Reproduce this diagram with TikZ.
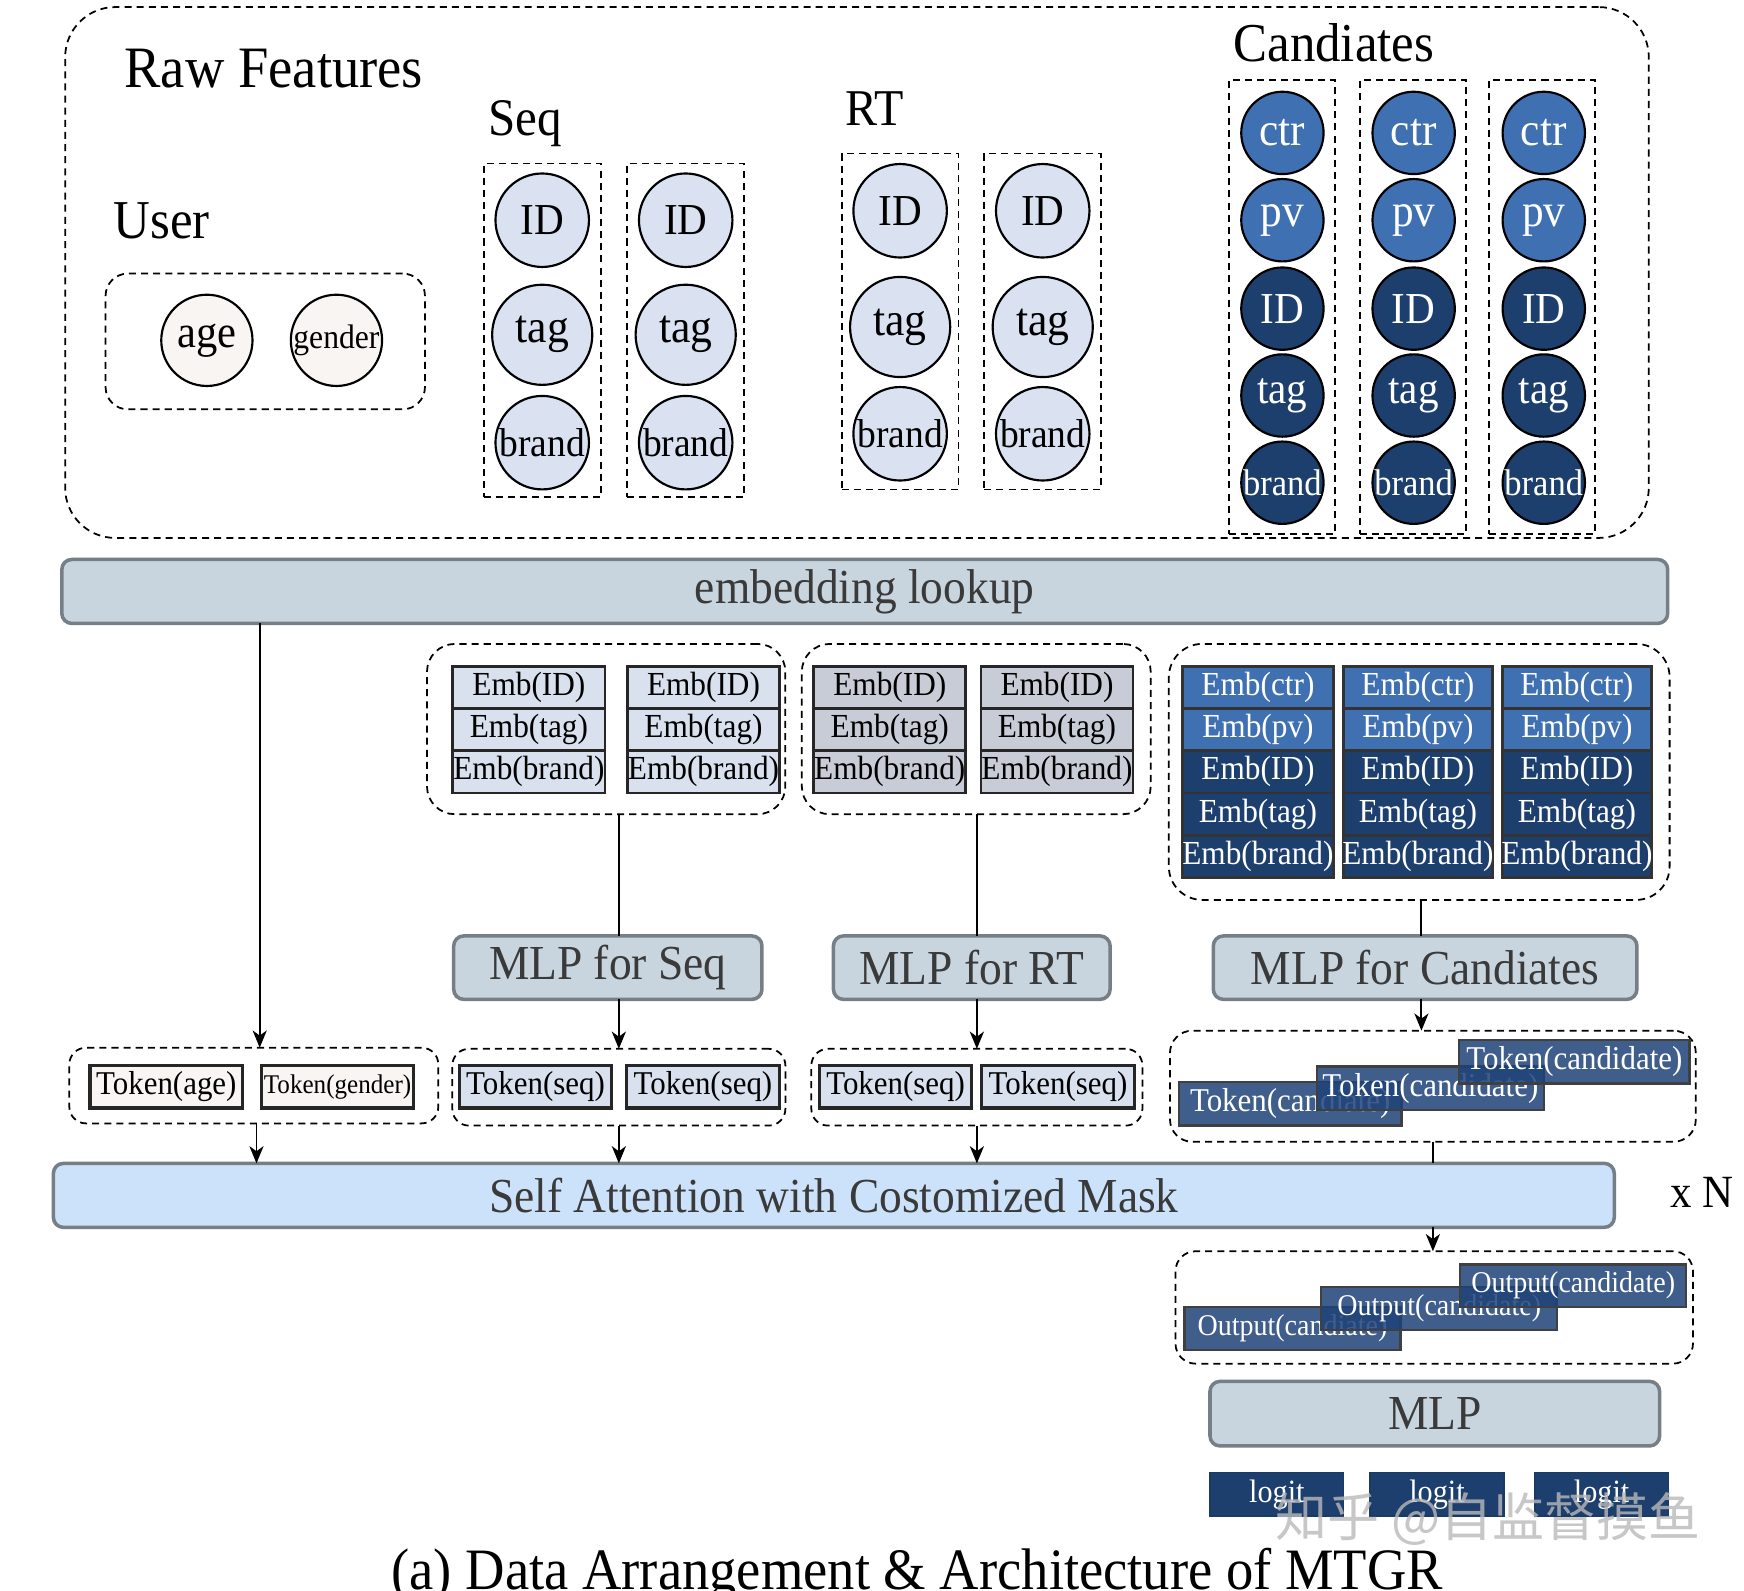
\documentclass[tikz,border=0pt]{standalone}
\usepackage{fontspec}
\setmainfont{Liberation Serif}[FakeStretch=0.93]
\newfontfamily\cjkfont{Noto Sans CJK SC}
\usetikzlibrary{arrows.meta}
\definecolor{circlight}{HTML}{DAE1F0}
\definecolor{usrfill}{HTML}{F8F5F3}
\definecolor{candA}{HTML}{3F70B2}
\definecolor{candB}{HTML}{1D3F6E}
\definecolor{seqemb}{HTML}{D9E0EE}
\definecolor{rtemb}{HTML}{C8CCD6}
\definecolor{barfill}{HTML}{C8D5DF}
\definecolor{barline}{HTML}{767E86}
\definecolor{attnfill}{HTML}{CCE2FA}
\definecolor{tokcand}{HTML}{1F4279}
\definecolor{textgray}{HTML}{3A3A3A}
\newcommand{\fsz}[1]{\fontsize{#1}{#1}\selectfont}
\newcommand{\zw}[1]{\makebox[0pt][c]{#1}}
\begin{document}
\begin{tikzpicture}[x=0.01cm,y=-0.01cm,
  every node/.style={inner sep=0pt, outer sep=0pt},
  dbox/.style={draw, line width=0.45pt, dash pattern=on 1.8pt off 1.3pt},
  fc/.style={circle, draw, line width=0.55pt, minimum size=#1},
  lightc/.style={fc=#1, fill=circlight},
  userc/.style={fc=0.82cm, fill=usrfill},
  candAc/.style={fc=0.74cm, fill=candA, text=white},
  candBc/.style={fc=0.74cm, fill=candB, text=white},
  embS/.style={draw=black!85, line width=0.7pt, fill=seqemb, minimum height=0.38cm, font=\fsz{8.6pt}},
  embR/.style={embS, fill=rtemb},
  embCA/.style={draw=black!80, line width=0.7pt, fill=candA, text=white, minimum height=0.38cm, font=\fsz{8.6pt}},
  embCB/.style={embCA, fill=candB},
  barS/.style={draw=barline, line width=0.9pt, fill=barfill, rounded corners=0.09cm, text=textgray, font=\fsz{12.5pt}},
  tokS/.style={draw=black!85, line width=0.8pt, minimum height=0.384cm, font=\fsz{8.5pt}},
  tokC/.style={draw=black!75, line width=0.6pt, fill=tokcand, fill opacity=0.85, text opacity=1, draw opacity=1, text=white, minimum height=0.39cm},
  logitS/.style={draw=candB!90!black, fill=candB, text=white, minimum width=1.2cm, minimum height=0.39cm, font=\fsz{8.3pt}},
  arr/.style={-{Stealth[length=4.4pt,width=3.6pt,inset=1.3pt]}, line width=0.5pt},
  conn/.style={line width=0.5pt}]

\fill[white] (0,0) rectangle (1568,1430);
\useasboundingbox (0,0) rectangle (1568,1430);

% ---------------- Raw features ----------------
\node[dbox, rounded corners=0.45cm, minimum width=14.23cm, minimum height=4.77cm] (raw) at (770.5,245) {};
\node[anchor=base west, font=\fsz{15pt}] (rawlbl) at (112,79) {Raw Features};
\node[anchor=base west, font=\fsz{14pt}] (userlbl) at (102,214) {User};
\node[anchor=base west, font=\fsz{13.5pt}] (seqlbl) at (439,122) {Seq};
\node[anchor=base west, font=\fsz{13.2pt}] (rtlbl) at (760,113) {RT};
\node[anchor=base west, font=\fsz{14pt}] (candlbl) at (1109,55) {Candiates};

% user
\node[dbox, rounded corners=0.2cm, minimum width=2.87cm, minimum height=1.22cm] (userbox) at (238.5,307) {};
\node[userc, font=\fsz{11.7pt}] (age) at (186,306) {age};
\node[userc, font=\fsz{8.7pt}] (gender) at (302.5,306) {\zw{gender}};

% seq
\foreach \cx/\nm in {487.5/sqa, 616.5/sqb}{
  \node[dbox, minimum width=1.05cm, minimum height=3.0cm] (\nm-box) at (\cx,297) {};
  \node[lightc=0.84cm, font=\fsz{11.3pt}] (\nm-id) at (\cx,198) {ID};
  \node[lightc=0.90cm, font=\fsz{12pt}] (\nm-tag) at (\cx,301) {tag};
  \node[lightc=0.84cm, font=\fsz{10.3pt}] (\nm-br) at (\cx,398) {\zw{brand}};
}
% rt
\foreach \cx/\nm in {809.3/rta, 937.5/rtb}{
  \node[dbox, minimum width=1.05cm, minimum height=3.02cm] (\nm-box) at (\cx,289) {};
  \node[lightc=0.84cm, font=\fsz{11.3pt}] (\nm-id) at (\cx,189.5) {ID};
  \node[lightc=0.90cm, font=\fsz{12pt}] (\nm-tag) at (\cx,294) {tag};
  \node[lightc=0.84cm, font=\fsz{10.3pt}] (\nm-br) at (\cx,390) {\zw{brand}};
}
% candidates
\foreach \cx/\bx/\nm in {1153/1152.5/ca, 1271/1270.5/cb, 1388/1386.5/cc}{
  \node[dbox, minimum width=0.95cm, minimum height=4.08cm] (\nm-box) at (\bx,276) {};
  \node[candAc, font=\fsz{11.9pt}] (\nm-ctr) at (\cx,119.5) {ctr};
  \node[candAc, font=\fsz{11.9pt}] (\nm-pv) at (\cx,198) {pv};
  \node[candBc, font=\fsz{11.3pt}] (\nm-id) at (\cx,277.5) {ID};
  \node[candBc, font=\fsz{11.3pt}] (\nm-tag) at (\cx,355.6) {tag};
  \node[candBc, font=\fsz{9.5pt}] (\nm-br) at (\cx,434) {\zw{brand}};
}

% ---------------- embedding lookup ----------------
\node[barS, minimum width=14.43cm, minimum height=0.575cm] (embbar) at (777.5,531.75) {embedding lookup};

% seq embeddings
\node[dbox, rounded corners=0.25cm, minimum width=3.22cm, minimum height=1.53cm] (sembox) at (545,655.5) {};
\foreach \cx/\nm in {475.5/sea, 632.5/seb}{
  \foreach \ry/\t/\k in {618/ID/1, 656/tag/2, 694/brand/3}{
    \node[embS, minimum width=1.37cm] (\nm\k) at (\cx,\ry) {\zw{Emb(\t)}};
  }
}
% rt embeddings
\node[dbox, rounded corners=0.25cm, minimum width=3.135cm, minimum height=1.53cm] (rembox) at (877.75,655.5) {};
\foreach \cx/\nm in {800/rea, 950.3/reb}{
  \foreach \ry/\t/\k in {618/ID/1, 656/tag/2, 694/brand/3}{
    \node[embR, minimum width=1.365cm] (\nm\k) at (\cx,\ry) {\zw{Emb(\t)}};
  }
}
% candidate embeddings
\node[dbox, rounded corners=0.3cm, minimum width=4.5cm, minimum height=2.3cm] (cembox) at (1276,694) {};
\foreach \cx/\w/\nm in {1131/1.36cm/cea, 1274.8/1.335cm/ceb, 1417.8/1.335cm/cec}{
  \node[embCA, minimum width=\w] (\nm1) at (\cx,618) {\zw{Emb(ctr)}};
  \node[embCA, minimum width=\w] (\nm2) at (\cx,656) {\zw{Emb(pv)}};
  \node[embCB, minimum width=\w] (\nm3) at (\cx,694) {\zw{Emb(ID)}};
  \node[embCB, minimum width=\w] (\nm4) at (\cx,732) {\zw{Emb(tag)}};
  \node[embCB, minimum width=\w] (\nm5) at (\cx,770) {\zw{Emb(brand)}};
}

% ---------------- MLPs ----------------
\node[barS, minimum width=2.77cm, minimum height=0.57cm] (smlp) at (546.5,870) {MLP for Seq};
\node[barS, minimum width=2.486cm, minimum height=0.57cm] (rmlp) at (873.7,870) {MLP for RT};
\node[barS, minimum width=3.806cm, minimum height=0.57cm] (cmlp) at (1281.3,870) {MLP for Candiates};

% ---------------- tokens ----------------
\node[dbox, rounded corners=0.15cm, minimum width=3.316cm, minimum height=0.68cm] (utoks) at (228.2,976) {};
\node[tokS, fill=usrfill, minimum width=1.37cm] (tage) at (149.5,977) {Token(age)};
\node[tokS, fill=usrfill, minimum width=1.37cm, font=\fsz{6.9pt}] (tgen) at (303.5,977) {Token(gender)};

\node[dbox, rounded corners=0.15cm, minimum width=2.993cm, minimum height=0.69cm] (stoks) at (556.4,977.5) {};
\node[tokS, fill=seqemb, minimum width=1.37cm] (ts1) at (481.5,977) {Token(seq)};
\node[tokS, fill=seqemb, minimum width=1.38cm] (ts2) at (632,977) {Token(seq)};

\node[dbox, rounded corners=0.15cm, minimum width=2.975cm, minimum height=0.69cm] (rtoks) at (878.3,977.5) {};
\node[tokS, fill=seqemb, minimum width=1.364cm] (tr1) at (805.2,977) {Token(seq)};
\node[tokS, fill=seqemb, minimum width=1.37cm] (tr2) at (951.2,977) {Token(seq)};

\node[dbox, rounded corners=0.2cm, minimum width=4.725cm, minimum height=0.998cm] (ctoks) at (1288.3,976.6) {};
\node[tokC, minimum width=2.0cm, font=\fsz{8.5pt}] (tc1) at (1160,992.5) {\zw{Token(candiate)}};
\node[tokC, minimum width=2.04cm, font=\fsz{8.5pt}] (tc2) at (1286,978.5) {\zw{Token(candidate)}};
\node[tokC, minimum width=2.07cm, font=\fsz{8.5pt}] (tc3) at (1415.5,954.5) {\zw{Token(candidate)}};

% ---------------- self attention ----------------
\node[barS, fill=attnfill, minimum width=14.026cm, minimum height=0.575cm] (attn) at (749.7,1074.75) {Self Attention with Costomized Mask};
\node[anchor=base west, font=\fsz{11.8pt}] (xn) at (1502,1086) {x N};

% ---------------- outputs ----------------
\node[dbox, rounded corners=0.18cm, minimum width=4.65cm, minimum height=1.01cm] (oboxes) at (1289.5,1175.5) {};
\node[tokC, minimum width=1.94cm, font=\fsz{7.7pt}] (oc1) at (1162,1194.5) {\zw{Output(candiate)}};
\node[tokC, minimum width=2.12cm, font=\fsz{7.7pt}] (oc2) at (1294,1176.5) {\zw{Output(candidate)}};
\node[tokC, minimum width=2.03cm, minimum height=0.38cm, font=\fsz{7.7pt}] (oc3) at (1414.5,1156) {\zw{Output(candidate)}};

\node[barS, minimum width=4.04cm, minimum height=0.58cm] (mlp) at (1290,1271) {MLP};
\node[logitS] (lg1) at (1148,1343.5) {logit};
\node[logitS] (lg2) at (1292,1343.5) {logit};
\node[logitS] (lg3) at (1440,1343.5) {logit};

% ---------------- connectors ----------------
\coordinate (uIn) at ([xshift=0.053cm]utoks.north);
\draw[arr] (uIn |- embbar.south) -- (uIn);
\coordinate (uOut) at ([xshift=0.024cm]utoks.south);
\draw[arr] (uOut) -- (uOut |- attn.north);

\draw[conn] (sembox.south -| stoks.north) -- (smlp.north -| stoks.north);
\draw[arr] (smlp.south -| stoks.north) -- (stoks.north);
\draw[arr] (stoks.south) -- (stoks.south |- attn.north);

\draw[conn] (rembox.south -| rtoks.north) -- (rmlp.north -| rtoks.north);
\draw[arr] (rmlp.south -| rtoks.north) -- (rtoks.north);
\draw[arr] (rtoks.south) -- (rtoks.south |- attn.north);

\coordinate (cIn) at ([xshift=0.02cm]cembox.south);
\draw[conn] (cIn) -- (cIn |- cmlp.north);
\draw[arr] (cIn |- cmlp.south) -- (cIn |- ctoks.north);
\draw[conn] (ctoks.south) -- (ctoks.south |- attn.north);
\draw[arr] (attn.south -| ctoks.south) -- (oboxes.north -| ctoks.south);

% ---------------- caption & watermark ----------------
\node[anchor=base west, font=\fsz{15pt}] (caption) at (352,1429) {(a) Data Arrangement \& Architecture of MTGR};
\node[font=\cjkfont\fsz{13.3pt}, text=gray!55, opacity=0.8] (wm) at (1338,1366) {知乎 @自监督摸鱼};
\end{tikzpicture}
\end{document}
